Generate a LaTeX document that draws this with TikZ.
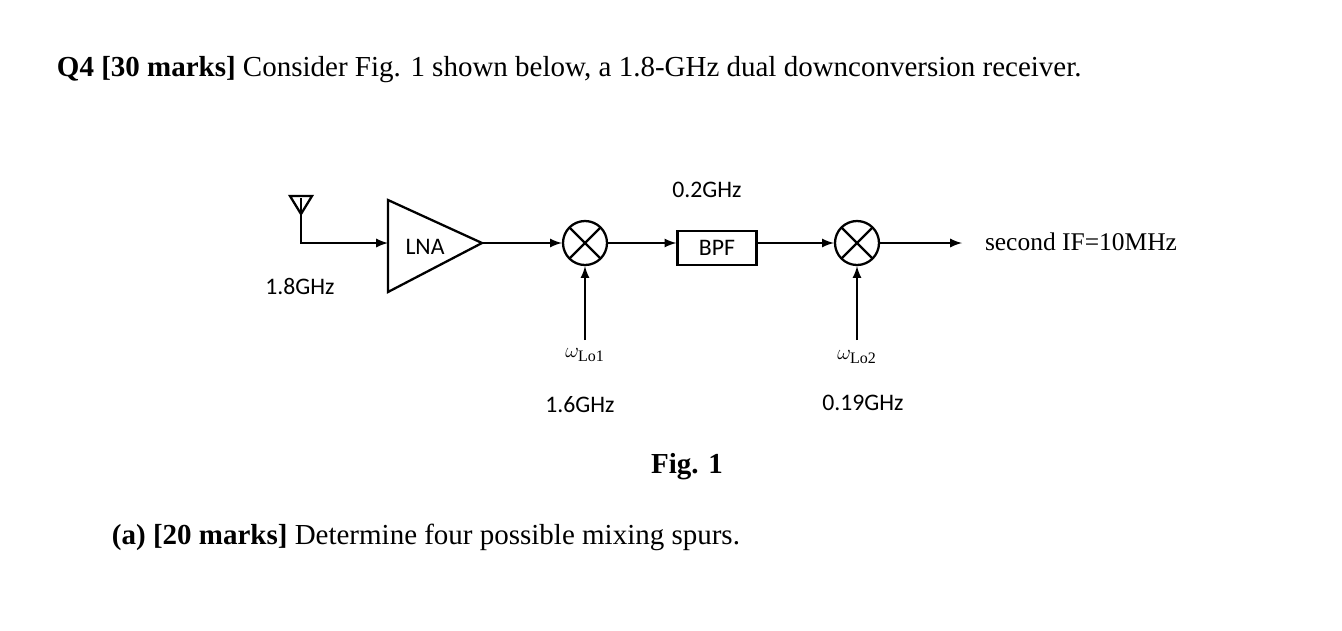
\documentclass[tikz,border=0pt]{standalone}
\usepackage{fontspec}
\usetikzlibrary{shapes.geometric}
\setmainfont{Liberation Serif}
\newfontfamily\carl{Carlito}
\begin{document}
\begin{tikzpicture}[x=0.02cm,y=-0.02cm,line width=1.3pt,
  lab/.style={font=\carl\fontsize{13.5}{15}\selectfont},
  ser/.style={font=\fontsize{16.5}{19}\selectfont},
  arr/.style={-latex},
  mix/.style={circle,draw,minimum size=0.88cm,inner sep=0pt,path picture={\draw[line width=1.3pt] (path picture bounding box.north west)--(path picture bounding box.south east) (path picture bounding box.north east)--(path picture bounding box.south west);}}]
\useasboundingbox (0,0) rectangle (1342,630);
\node[ser,anchor=west] (title) at (50,70) {\textbf{Q4 [30 marks]} Consider Fig. 1 shown below, a 1.8-GHz dual downconversion receiver.};
% antenna
\draw (290,196) -- (312,196) -- (301,214) -- cycle;
\coordinate (ant) at (301,198);
\coordinate (corner) at (301,243);
\coordinate (lnain) at (388,243);
\coordinate (lnaout) at (482,243);
\draw (388,200) -- (lnaout) -- (388,292) -- cycle;
\node[lab] (lna) at (425,247) {LNA};
\draw[arr] (ant) -- (corner) -- (lnain);
\node[mix] (m1) at (585,243) {};
\node[mix] (m2) at (857,243) {};
\node[draw,minimum width=1.58cm,minimum height=0.68cm,inner sep=0pt,lab] (bpf) at (717,248) {BPF};
\draw[arr] (lnaout) -- (m1.west);
\draw[arr] (m1.east) -- (bpf.west |- 0,243);
\draw[arr] (bpf.east |- 0,243) -- (m2.west);
\coordinate (out) at (962,243);
\draw[arr] (m2.east) -- (out);
\node[anchor=west,font=\fontsize{14.5}{17}\selectfont] (if) at (978,242) {second IF=10MHz};
\coordinate (lo1) at (585,340);
\coordinate (lo2) at (857,340);
\draw[arr] (lo1) -- (m1.south);
\draw[arr] (lo2) -- (m2.south);
\node[lab] (f0) at (707,190) {0.2GHz};
\node[lab] (fin) at (300,286) {1.8GHz};
\node[font=\fontsize{13}{15}\selectfont] (w1) at (585,355) {$\omega_{\mathrm{Lo1}}$};
\node[font=\fontsize{13}{15}\selectfont] (w2) at (857,357) {$\omega_{\mathrm{Lo2}}$};
\node[lab] (f1) at (580,405) {1.6GHz};
\node[lab] (f2) at (863,403) {0.19GHz};
\node[font=\bfseries\fontsize{16.5}{19}\selectfont] (fig) at (687,467) {Fig. 1};
\node[ser,anchor=west] (qa) at (105,537) {\textbf{(a) [20 marks]} Determine four possible mixing spurs.};
\end{tikzpicture}
\end{document}
